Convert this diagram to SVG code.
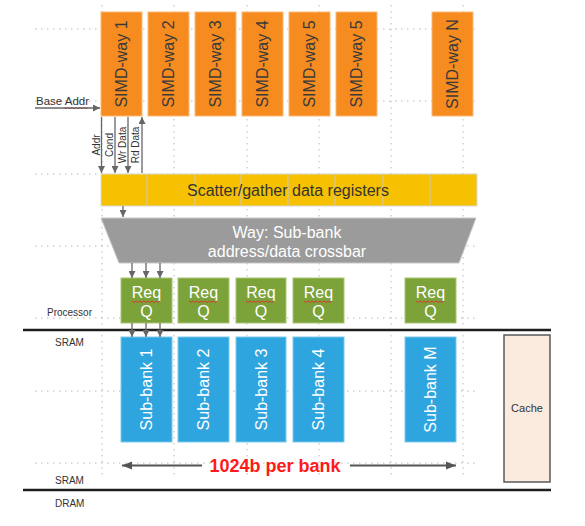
<svg xmlns="http://www.w3.org/2000/svg" width="585" height="526" viewBox="0 0 585 526">
<style>
text{font-family:"Liberation Sans",Arial,sans-serif}
.grid{stroke:#b8b8b8;stroke-width:1;stroke-dasharray:1.5 4.5;fill:none}
.simd{fill:#F68B1F;stroke:#FBB97A;stroke-width:1}
.simdt{font-size:16px;fill:#3a3a3a;text-anchor:middle}
.req{fill:#7CA23A;stroke:#A8C574;stroke-width:1}
.reqt{font-size:16px;fill:#ffffff;text-anchor:middle}
.sub{fill:#2EA5DE;stroke:#7FC9EC;stroke-width:1}
.subt{font-size:16px;fill:#ffffff;text-anchor:middle}
.lbl{font-size:10px;fill:#333;text-anchor:middle}
.side{font-size:10px;fill:#333}
.conn{stroke:#666;stroke-width:1.3;fill:none}
.sq{stroke:#E03030;stroke-width:0.9;fill:none}
.div{stroke:#C8C8C8;stroke-width:1}
</style>
<defs>
<marker id="ah" markerUnits="userSpaceOnUse" markerWidth="7" markerHeight="7" viewBox="0 0 10 10" refX="10" refY="5" orient="auto">
<path d="M0,0 L10,5 L0,10 z" fill="#666"/>
</marker>
<marker id="ahb" markerUnits="userSpaceOnUse" markerWidth="10" markerHeight="10" viewBox="0 0 10 10" refX="10" refY="5" orient="auto">
<path d="M0,1 L10,5 L0,9 z" fill="#555"/>
</marker>
</defs>
<rect width="585" height="526" fill="#ffffff"/>
<g id="grid">
<line class="grid" x1="102" y1="5" x2="102" y2="475"/>
<line class="grid" x1="174" y1="5" x2="174" y2="475"/>
<line class="grid" x1="247" y1="5" x2="247" y2="475"/>
<line class="grid" x1="319" y1="5" x2="319" y2="475"/>
<line class="grid" x1="391" y1="5" x2="391" y2="475"/>
<line class="grid" x1="463" y1="5" x2="463" y2="475"/>
<line class="grid" x1="35" y1="29" x2="478" y2="29"/>
<line class="grid" x1="35" y1="101" x2="478" y2="101"/>
<line class="grid" x1="35" y1="174" x2="478" y2="174"/>
<line class="grid" x1="35" y1="246" x2="478" y2="246"/>
<line class="grid" x1="35" y1="318" x2="478" y2="318"/>
<line class="grid" x1="35" y1="391" x2="478" y2="391"/>
<line class="grid" x1="35" y1="463" x2="478" y2="463"/>
</g>
<g id="separators">
<line x1="23" y1="330" x2="551" y2="330" stroke="#1e1e1e" stroke-width="2.4"/>
<line x1="23" y1="490" x2="551" y2="490" stroke="#1e1e1e" stroke-width="2.4"/>
</g>
<g id="simd1"><rect class="simd" x="101" y="12" width="41" height="104"/><text class="simdt" x="121.5" y="69.5" transform="rotate(-90 121.5 64)">SIMD-way 1</text></g>
<g id="simd2"><rect class="simd" x="148" y="12" width="41" height="104"/><text class="simdt" x="168.5" y="69.5" transform="rotate(-90 168.5 64)">SIMD-way 2</text></g>
<g id="simd3"><rect class="simd" x="195" y="12" width="41" height="104"/><text class="simdt" x="215.5" y="69.5" transform="rotate(-90 215.5 64)">SIMD-way 3</text></g>
<g id="simd4"><rect class="simd" x="242" y="12" width="41" height="104"/><text class="simdt" x="262.5" y="69.5" transform="rotate(-90 262.5 64)">SIMD-way 4</text></g>
<g id="simd5"><rect class="simd" x="289" y="12" width="41" height="104"/><text class="simdt" x="309.5" y="69.5" transform="rotate(-90 309.5 64)">SIMD-way 5</text></g>
<g id="simd5b"><rect class="simd" x="336" y="12" width="41" height="104"/><text class="simdt" x="356.5" y="69.5" transform="rotate(-90 356.5 64)">SIMD-way 5</text></g>
<g id="simdN"><rect class="simd" x="432" y="12" width="41" height="104"/><text class="simdt" x="452.5" y="69.5" transform="rotate(-90 452.5 64)">SIMD-way N</text></g>
<g id="scatter">
<rect x="101" y="174" width="376" height="32" fill="#F6C100" stroke="#D9D9D9" stroke-width="1"/>
<line class="div" x1="147" y1="174" x2="147" y2="206"/>
<line class="div" x1="195" y1="174" x2="195" y2="206"/>
<line class="div" x1="241" y1="174" x2="241" y2="206"/>
<line class="div" x1="288" y1="174" x2="288" y2="206"/>
<line class="div" x1="335" y1="174" x2="335" y2="206"/>
<line class="div" x1="383" y1="174" x2="383" y2="206"/>
<line class="div" x1="430" y1="174" x2="430" y2="206"/>
<text x="288" y="196" font-size="16" fill="#333" text-anchor="middle">Scatter/gather data registers</text>
</g>
<g id="crossbar">
<polygon points="101,218 476,218 459,263 119,263" fill="#9B9B9B" stroke="#C8C8C8" stroke-width="1"/>
<text x="287" y="238" font-size="16" fill="#fff" text-anchor="middle">Way: Sub-bank</text>
<text x="287" y="257" font-size="16" fill="#fff" text-anchor="middle">address/data crossbar</text>
</g>
<g id="req1"><rect class="req" x="121" y="278" width="51" height="45"/><text class="reqt" x="146.5" y="298">Req</text><text class="reqt" x="146.5" y="317">Q</text><path class="sq" d="M132,301 l2,1.5 l2,-1.5 l2,1.5 l2,-1.5 l2,1.5 l2,-1.5 l2,1.5 l2,-1.5 l2,1.5 l2,-1.5 l2,1.5 l2,-1.5 l2,1.5 l2,-1.5"/></g>
<g id="req2"><rect class="req" x="178" y="278" width="51" height="45"/><text class="reqt" x="203.5" y="298">Req</text><text class="reqt" x="203.5" y="317">Q</text><path class="sq" d="M189,301 l2,1.5 l2,-1.5 l2,1.5 l2,-1.5 l2,1.5 l2,-1.5 l2,1.5 l2,-1.5 l2,1.5 l2,-1.5 l2,1.5 l2,-1.5 l2,1.5 l2,-1.5"/></g>
<g id="req3"><rect class="req" x="236" y="278" width="50" height="45"/><text class="reqt" x="261" y="298">Req</text><text class="reqt" x="261" y="317">Q</text><path class="sq" d="M246,301 l2,1.5 l2,-1.5 l2,1.5 l2,-1.5 l2,1.5 l2,-1.5 l2,1.5 l2,-1.5 l2,1.5 l2,-1.5 l2,1.5 l2,-1.5 l2,1.5 l2,-1.5"/></g>
<g id="req4"><rect class="req" x="293" y="278" width="51" height="45"/><text class="reqt" x="318.5" y="298">Req</text><text class="reqt" x="318.5" y="317">Q</text><path class="sq" d="M304,301 l2,1.5 l2,-1.5 l2,1.5 l2,-1.5 l2,1.5 l2,-1.5 l2,1.5 l2,-1.5 l2,1.5 l2,-1.5 l2,1.5 l2,-1.5 l2,1.5 l2,-1.5"/></g>
<g id="reqM"><rect class="req" x="405" y="278" width="51" height="45"/><text class="reqt" x="430.5" y="298">Req</text><text class="reqt" x="430.5" y="317">Q</text><path class="sq" d="M416,301 l2,1.5 l2,-1.5 l2,1.5 l2,-1.5 l2,1.5 l2,-1.5 l2,1.5 l2,-1.5 l2,1.5 l2,-1.5 l2,1.5 l2,-1.5 l2,1.5 l2,-1.5"/></g>
<g id="sub1"><rect class="sub" x="121" y="337" width="51" height="105"/><text class="subt" x="146.5" y="395" transform="rotate(-90 146.5 389.5)">Sub-bank 1</text></g>
<g id="sub2"><rect class="sub" x="178" y="337" width="51" height="105"/><text class="subt" x="203.5" y="395" transform="rotate(-90 203.5 389.5)">Sub-bank 2</text></g>
<g id="sub3"><rect class="sub" x="236" y="337" width="50" height="105"/><text class="subt" x="261" y="395" transform="rotate(-90 261 389.5)">Sub-bank 3</text></g>
<g id="sub4"><rect class="sub" x="293" y="337" width="51" height="105"/><text class="subt" x="318.5" y="395" transform="rotate(-90 318.5 389.5)">Sub-bank 4</text></g>
<g id="subM"><rect class="sub" x="405" y="337" width="51" height="105"/><text class="subt" x="430.5" y="395" transform="rotate(-90 430.5 389.5)">Sub-bank M</text></g>
<g id="cache"><rect x="504" y="335" width="46" height="147" fill="#FBEBDF" stroke="#595959" stroke-width="1.5"/><text x="527" y="412" font-size="11" fill="#333" text-anchor="middle">Cache</text></g>
<g id="labels">
<text class="side" x="36" y="105" font-size="11.5" style="font-size:11.5px">Base Addr</text>
<path class="sq" d="M64,107.5 l2,1.3 l2,-1.3 l2,1.3 l2,-1.3 l2,1.3 l2,-1.3 l2,1.3 l2,-1.3 l2,1.3 l2,-1.3 l2,1.3 l2,-1.3"/>
<text class="lbl" x="99.5" y="145" transform="rotate(-90 99.5 145) translate(0 0)" dx="0" dy="0">Addr</text>
<text class="lbl" x="113" y="145" transform="rotate(-90 113 145)">Cond</text>
<text class="lbl" x="126" y="145" transform="rotate(-90 126 145)">Wr Data</text>
<text class="lbl" x="138.5" y="145" transform="rotate(-90 138.5 145)">Rd Data</text>
<text class="side" x="47" y="316">Processor</text>
<text class="side" x="55" y="346">SRAM</text>
<text class="side" x="55" y="484">SRAM</text>
<text class="side" x="55" y="507">DRAM</text>
<text x="275" y="472" font-size="18" font-weight="bold" fill="#FF1A1A" text-anchor="middle">1024b per bank</text>
</g>
<g id="connectors">
<line class="conn" x1="35" y1="108" x2="100" y2="108" marker-end="url(#ah)"/>
<line class="conn" x1="101.5" y1="117" x2="101.5" y2="173" marker-end="url(#ah)"/>
<line class="conn" x1="115" y1="117" x2="115" y2="173" marker-end="url(#ah)"/>
<line class="conn" x1="128" y1="117" x2="128" y2="173" marker-end="url(#ah)"/>
<line class="conn" x1="142" y1="173" x2="142" y2="117" marker-end="url(#ah)"/>
<line class="conn" x1="123" y1="206" x2="123" y2="217" marker-end="url(#ah)"/>
<line class="conn" x1="132" y1="263" x2="132" y2="278" marker-end="url(#ah)"/>
<line class="conn" x1="146" y1="263" x2="146" y2="278" marker-end="url(#ah)"/>
<line class="conn" x1="160" y1="263" x2="160" y2="278" marker-end="url(#ah)"/>
<line class="conn" x1="132" y1="323" x2="132" y2="337" marker-end="url(#ah)"/>
<line class="conn" x1="146" y1="323" x2="146" y2="337" marker-end="url(#ah)"/>
<line class="conn" x1="160" y1="323" x2="160" y2="337" marker-end="url(#ah)"/>
<line x1="202" y1="465.5" x2="122" y2="465.5" stroke="#555" stroke-width="2" marker-end="url(#ahb)"/>
<line x1="350" y1="465.5" x2="456" y2="465.5" stroke="#555" stroke-width="2" marker-end="url(#ahb)"/>
</g>
</svg>
